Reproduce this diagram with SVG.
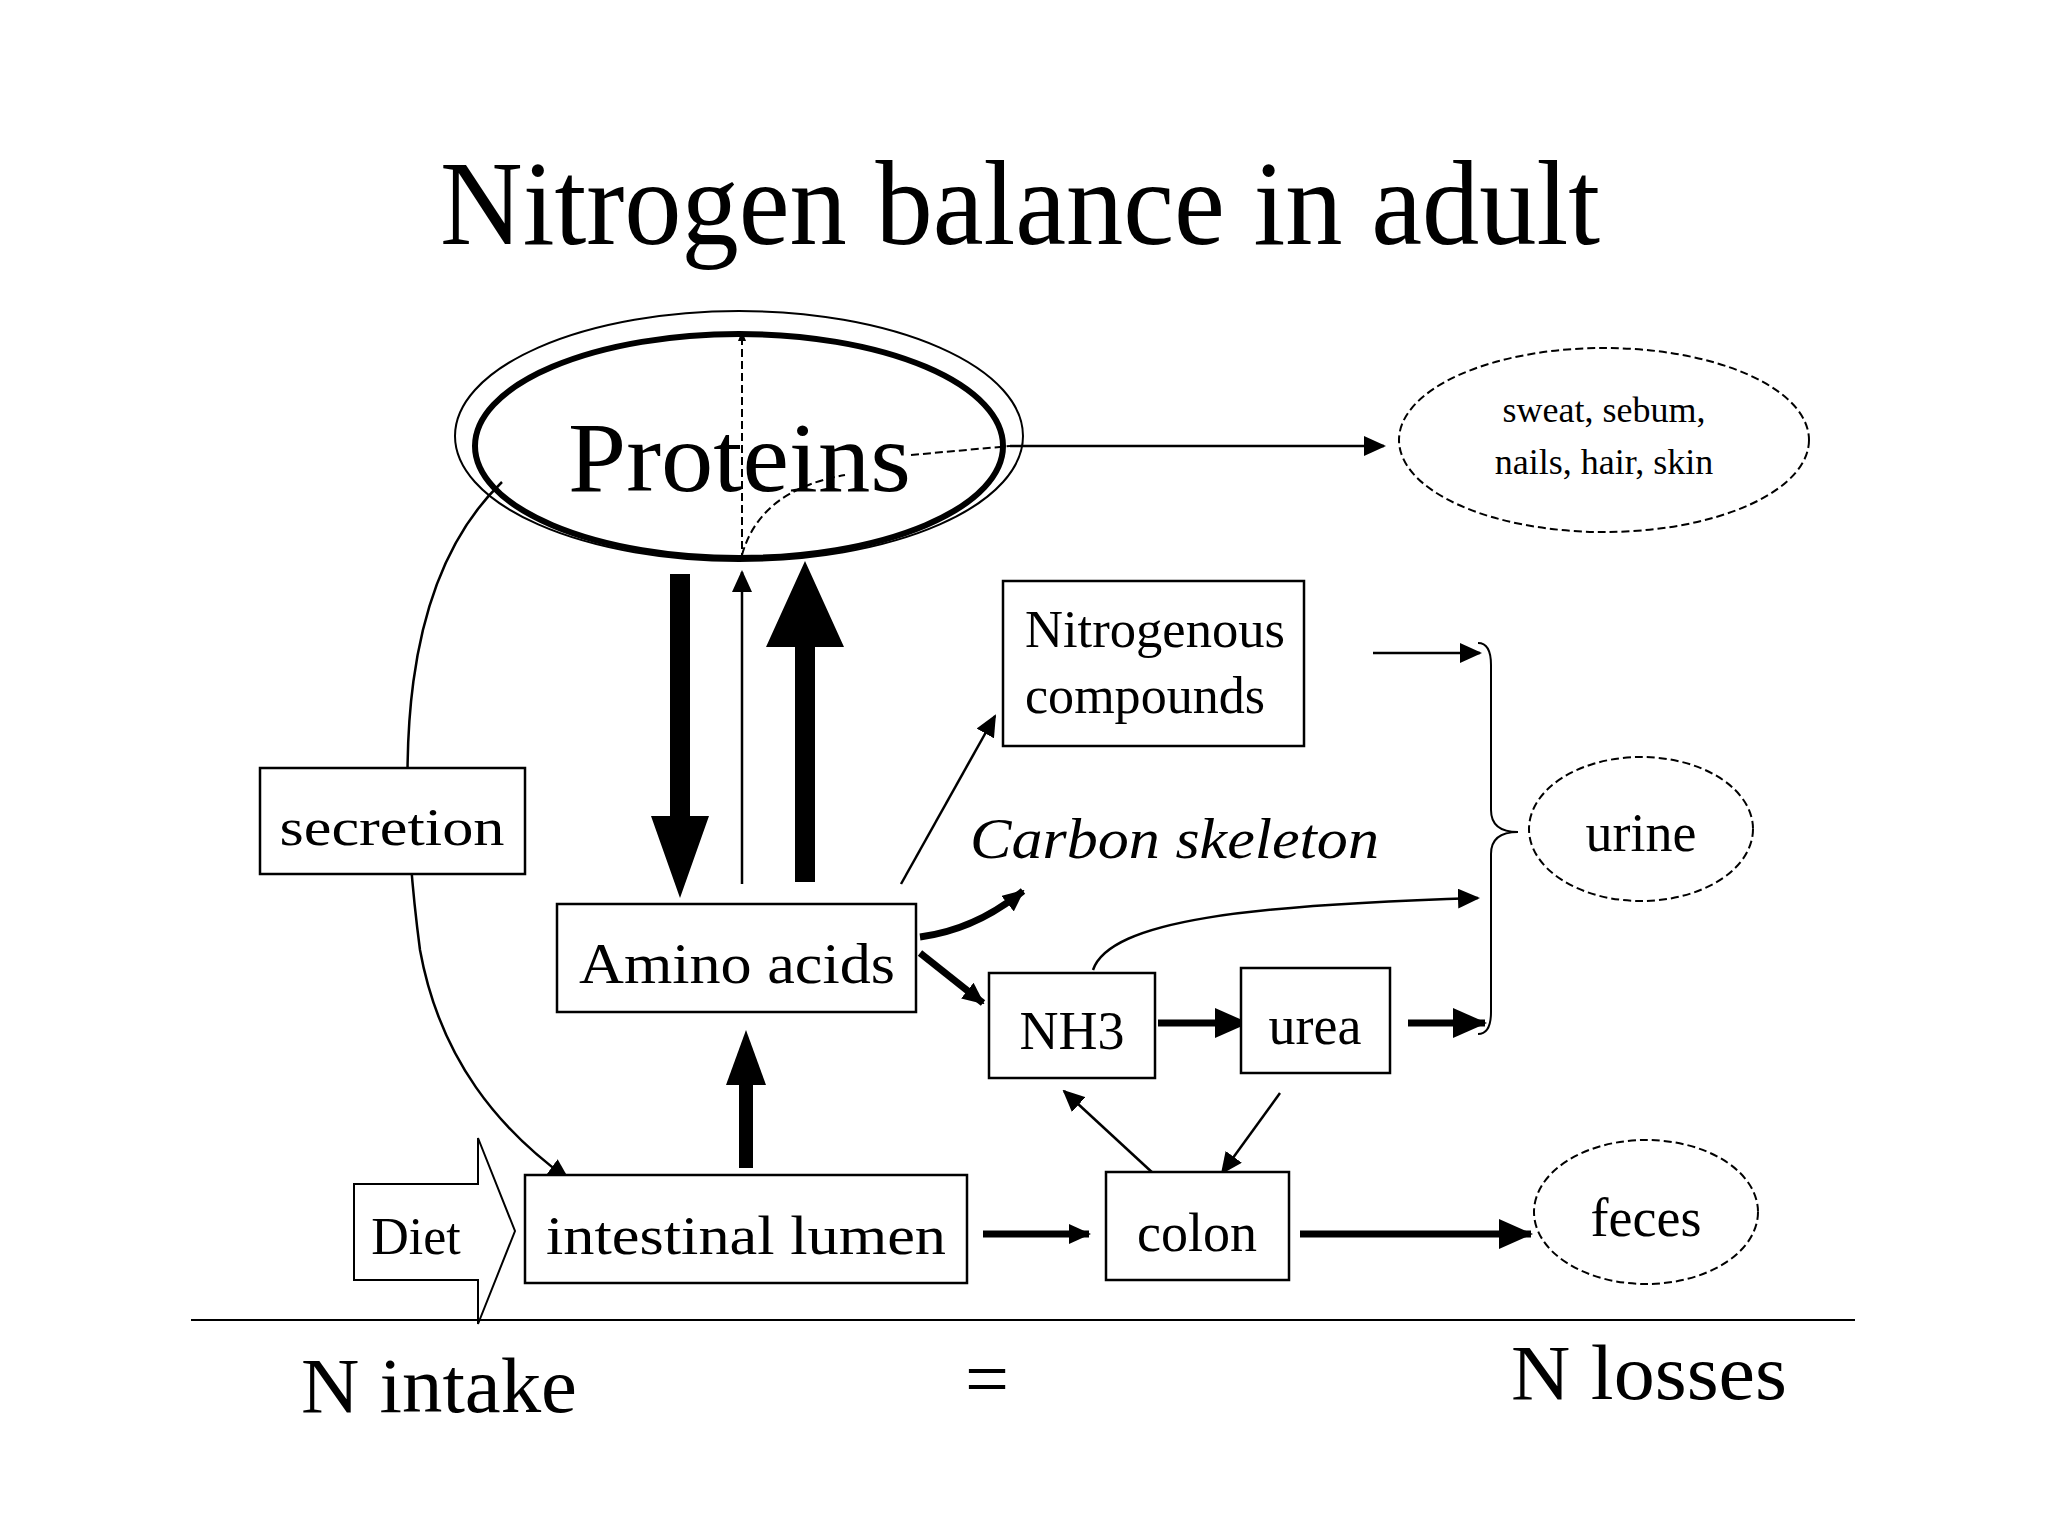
<svg xmlns="http://www.w3.org/2000/svg" width="2048" height="1536" viewBox="0 0 2048 1536">
<style>
text{font-family:"Liberation Serif",serif;fill:#000}
.box{fill:#fff;stroke:#000;stroke-width:2.5}
.dash{fill:none;stroke:#000;stroke-width:2;stroke-dasharray:8 4}
.ln{fill:none;stroke:#000;stroke-width:2.5}
.thk{fill:none;stroke:#000;stroke-width:7}
</style>
<defs>
<marker id="a" markerWidth="10" markerHeight="8" refX="9" refY="4" orient="auto" markerUnits="userSpaceOnUse" viewBox="0 0 10 8"><path d="M0,0L10,4L0,8z"/></marker>
<marker id="ab" markerWidth="22" markerHeight="20" refX="20" refY="10" orient="auto" markerUnits="userSpaceOnUse" viewBox="0 0 22 20"><path d="M0,0L22,10L0,20z"/></marker>
<marker id="am" markerWidth="34" markerHeight="30" refX="32" refY="15" orient="auto" markerUnits="userSpaceOnUse" viewBox="0 0 34 30"><path d="M0,0L34,15L0,30z"/></marker>
</defs>
<rect width="2048" height="1536" fill="#fff"/>
<text x="1020" y="244" font-size="120" text-anchor="middle" textLength="1160" lengthAdjust="spacingAndGlyphs">Nitrogen balance in adult</text>

<g id="connectors">
<path d="M1010,446H1384" class="ln" marker-end="url(#ab)"/>
<path d="M911,455L1010,446" class="dash"/>
<path d="M742,561V332" class="dash" marker-end="url(#a)"/>
<path d="M742,555Q760,490 845,475" class="dash"/>
<path d="M670,574H690V816H709L680,898L651,816H670Z"/>
<path d="M742,884V572" class="ln" marker-end="url(#ab)"/>
<path d="M795,882V647H766L805,561L844,647H815V882Z"/>
<path d="M901,884L995,716" class="ln" marker-end="url(#ab)"/>
<path d="M920,937Q975,930 1023,891" class="thk" marker-end="url(#ab)"/>
<path d="M920,953L983,1003" class="thk" marker-end="url(#ab)"/>
<path d="M1158,1023H1247" class="thk" marker-end="url(#am)"/>
<path d="M1408,1023H1485" class="thk" marker-end="url(#am)"/>
<path d="M1093,970C1110,920 1250,905 1478,898" class="ln" marker-end="url(#ab)"/>
<path d="M1373,653H1480" class="ln" marker-end="url(#ab)"/>
<path d="M1478,643Q1491,643 1491,665V810Q1491,832 1518,832Q1491,832 1491,854V1012Q1491,1034 1478,1034" fill="none" stroke="#000" stroke-width="2"/>
<path d="M502,482C400,580 395,760 420,950C440,1060 500,1130 568,1179" class="ln" marker-end="url(#ab)"/>
<path d="M746,1168V1082" stroke="#000" stroke-width="14"/>
<path d="M726,1085L746,1030L766,1085Z"/>
<path d="M983,1234H1089" class="thk" marker-end="url(#ab)"/>
<path d="M1155,1175L1064,1091" class="ln" marker-end="url(#ab)"/>
<path d="M1280,1093L1222,1173" class="ln" marker-end="url(#ab)"/>
<path d="M1300,1234H1531" class="thk" marker-end="url(#am)"/>
</g>

<g id="proteins">
<ellipse cx="739" cy="436" rx="284" ry="125" fill="none" stroke="#000" stroke-width="2"/>
<ellipse cx="739" cy="446" rx="264" ry="112" fill="none" stroke="#000" stroke-width="6"/>
<text x="568" y="491" font-size="100" textLength="343" lengthAdjust="spacingAndGlyphs">Proteins</text>
</g>
<g id="sweat">
<ellipse cx="1604" cy="440" rx="205" ry="92" class="dash" stroke-width="2"/>
<text x="1604" y="422" font-size="36" text-anchor="middle">sweat, sebum,</text>
<text x="1604" y="474" font-size="36" text-anchor="middle">nails, hair, skin</text>
</g>
<g id="nitrogenous">
<rect x="1003" y="581" width="301" height="165" class="box"/>
<text x="1025" y="647" font-size="52" textLength="260" lengthAdjust="spacingAndGlyphs">Nitrogenous</text>
<text x="1025" y="713" font-size="52" textLength="240" lengthAdjust="spacingAndGlyphs">compounds</text>
</g>
<text id="carbon" x="970" y="858" font-size="56" font-style="italic" textLength="409" lengthAdjust="spacingAndGlyphs">Carbon skeleton</text>
<g id="secretion">
<rect x="260" y="768" width="265" height="106" class="box"/>
<text x="392" y="845" font-size="52" text-anchor="middle" textLength="225" lengthAdjust="spacingAndGlyphs">secretion</text>
</g>
<g id="amino">
<rect x="557" y="904" width="359" height="108" class="box"/>
<text x="737" y="983" font-size="56" text-anchor="middle" textLength="316" lengthAdjust="spacingAndGlyphs">Amino acids</text>
</g>
<g id="nh3">
<rect x="989" y="973" width="166" height="105" class="box"/>
<text x="1072" y="1049" font-size="54" text-anchor="middle">NH3</text>
</g>
<g id="urea">
<rect x="1241" y="968" width="149" height="105" class="box"/>
<text x="1315" y="1044" font-size="54" text-anchor="middle">urea</text>
</g>
<g id="urine">
<ellipse cx="1641" cy="829" rx="112" ry="72" class="dash"/>
<text x="1641" y="851" font-size="54" text-anchor="middle">urine</text>
</g>
<g id="diet">
<path d="M354,1184H478V1138L515,1231L478,1324V1280H354Z" fill="#fff" stroke="#000" stroke-width="2"/>
<text x="416" y="1254" font-size="52" text-anchor="middle">Diet</text>
</g>
<g id="lumen">
<rect x="525" y="1175" width="442" height="108" class="box"/>
<text x="746" y="1254" font-size="54" text-anchor="middle" textLength="400" lengthAdjust="spacingAndGlyphs">intestinal lumen</text>
</g>
<g id="colon">
<rect x="1106" y="1172" width="183" height="108" class="box"/>
<text x="1197" y="1251" font-size="54" text-anchor="middle">colon</text>
</g>
<g id="feces">
<ellipse cx="1646" cy="1212" rx="112" ry="72" class="dash"/>
<text x="1646" y="1236" font-size="54" text-anchor="middle">feces</text>
</g>

<path d="M191,1320H1855" stroke="#000" stroke-width="2"/>
<text x="301" y="1412" font-size="78" textLength="276" lengthAdjust="spacingAndGlyphs">N intake</text>
<text x="987" y="1405" font-size="78" text-anchor="middle">=</text>
<text x="1511" y="1399" font-size="78" textLength="276" lengthAdjust="spacingAndGlyphs">N losses</text>
</svg>
